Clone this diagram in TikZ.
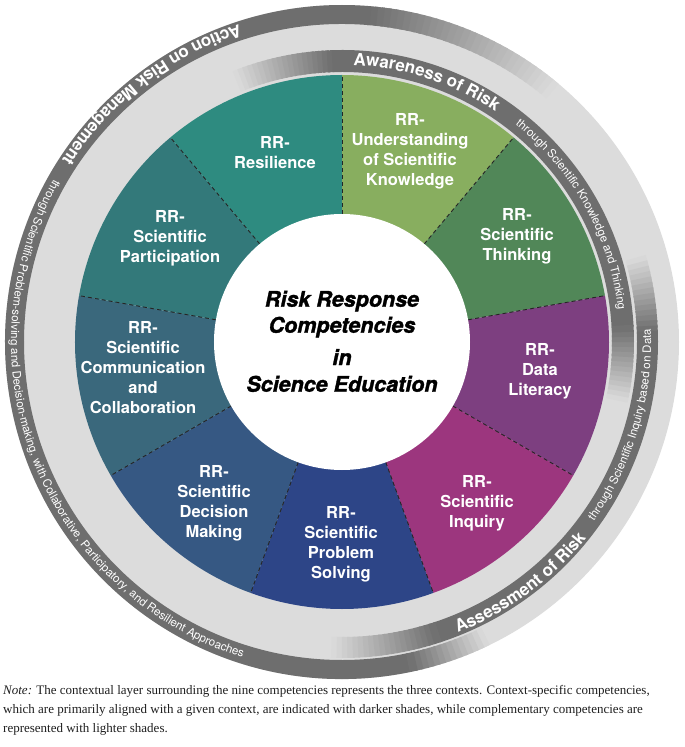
\documentclass[tikz,border=0pt]{standalone}
\usepackage{fontspec}
\setmainfont{TeX Gyre Heros}
\newfontfamily\notefont{Liberation Serif}
\newfontfamily\ctrfont[BoldItalicFeatures={FakeBold=1.5}]{TeX Gyre Heros}
\usetikzlibrary{decorations.text}

\definecolor{cRes}{HTML}{2E8B80}
\definecolor{cPar}{HTML}{33797A}
\definecolor{cCom}{HTML}{3A687C}
\definecolor{cDec}{HTML}{365883}
\definecolor{cPro}{HTML}{2D4587}
\definecolor{cInq}{HTML}{9C367E}
\definecolor{cDat}{HTML}{7D3F80}
\definecolor{cThi}{HTML}{518758}
\definecolor{cUnd}{HTML}{88AE5F}
\definecolor{ringlt}{HTML}{DCDCDC}
\definecolor{ringdk}{HTML}{6E6E6E}
\definecolor{notecol}{HTML}{1E1E1E}

\newcommand\arcbig{\color{white}\fontsize{17}{17}\selectfont\bfseries}
\newcommand\arcsmall{\color{white}\fontsize{11.5}{11.5}\selectfont}

% #1 r_in, #2 r_out, #3 light angle, #4 dark angle, #5 steps
\newcommand\bandfade[5]{%
  \foreach \k in {1,...,#5}{%
    \pgfmathsetmacro\fadeA{#3+(#4-#3)*(\k-1)/#5}%
    \pgfmathsetmacro\fadeB{#3+(#4-#3)*(\k+0.4)/#5}%
    \pgfmathsetmacro\fadeP{100*(\k-0.5)/#5}%
    \fill[ringdk!\fadeP!ringlt] (\fadeA:#1) arc[start angle=\fadeA, end angle=\fadeB, radius=#1]
      -- (\fadeB:#2) arc[start angle=\fadeB, end angle=\fadeA, radius=#2] -- cycle;
  }}
% #1 r_in, #2 r_out, #3 start angle, #4 end angle
\newcommand\bandsolid[4]{%
  \fill[ringdk] (#3:#1) arc[start angle=#3, end angle=#4, radius=#1]
    -- (#4:#2) arc[start angle=#4, end angle=#3, radius=#2] -- cycle;}

\begin{document}
\begin{tikzpicture}[x=1pt,y=1pt,
  seglabel/.style={align=center, text=white, inner sep=0pt,
    font=\fontsize{16.5}{20}\selectfont\bfseries},
  ctrline/.style={anchor=base, inner sep=0pt,
    font=\ctrfont\bfseries\itshape\fontsize{21.5}{24}\selectfont},
  notetext/.style={anchor=base west, inner sep=0pt, text=notecol,
    font=\notefont\fontsize{13}{16}\selectfont},
  segline/.style={black!85, line width=0.9pt, dash pattern=on 4pt off 3pt}]
\useasboundingbox (-342,-405) rectangle (343,342);

% outer ring background
\fill[ringlt] (0,0) circle[radius=337pt];

% band A : Awareness
\bandfade{270pt}{292pt}{112}{92}{20}
\bandsolid{270pt}{292pt}{92}{3}
\bandfade{270pt}{292pt}{-12}{3}{15}
% band B : Assessment
\bandfade{295pt}{316pt}{16}{2}{14}
\bandsolid{295pt}{316pt}{2}{-72}
\bandfade{295pt}{316pt}{-92}{-72}{20}
% band C : Action
\bandfade{318pt}{337pt}{50}{85}{30}
\bandsolid{318pt}{337pt}{85}{282}
\bandfade{318pt}{337pt}{296}{282}{14}

% segments
\foreach \s/\c in {90/cUnd, 50/cThi, 10/cDat, -30/cInq, -70/cPro, -110/cDec, -150/cCom, 170/cPar, 130/cRes}{
  \fill[\c] (0,0) -- (\s:267pt) arc[start angle=\s, end angle=\s-40, radius=267pt] -- cycle;
}
\foreach \a in {90,50,10,-30,-70,-110,-150,170,130}{
  \draw[segline] (\a:128pt) -- (\a:267pt);
}

% hub
\node[circle, fill=white, minimum size=256pt, inner sep=0pt] (hub) at (0,0) {};
\node[ctrline] (c1) at (0,35.3) {Risk Response};
\node[ctrline] (c2) at (0,9.3) {Competencies};
\node[ctrline] (c3) at (0,-23) {in};
\node[ctrline] (c4) at (0,-49.7) {Science Education};

% segment labels
\node[seglabel] (res) at (-67,189) {RR-\\Resilience};
\node[seglabel] (par) at (-172,104) {RR-\\Scientific\\Participation};
\node[seglabel] (com) at (-199,-26) {RR-\\Scientific\\Communication\\and\\Collaboration};
\node[seglabel] (dec) at (-128,-161) {RR-\\Scientific\\Decision\\Making};
\node[seglabel] (pro) at (-1,-202) {RR-\\Scientific\\Problem\\Solving};
\node[seglabel] (inq) at (135,-161) {RR-\\Scientific\\Inquiry};
\node[seglabel] (dat) at (198,-29) {RR-\\Data\\Literacy};
\node[seglabel] (thi) at (175,106) {RR-\\Scientific\\Thinking};
\node[seglabel] (und) at (68,191) {RR-\\Understanding\\of Scientific\\Knowledge};

% ring texts
\path[decorate, decoration={text along path, text align=center,
  text={|\arcbig|Awareness of Risk}}]
  (89:277pt) arc[start angle=89, end angle=55, radius=277pt];
\path[decorate, decoration={text along path, text align=center,
  text={|\arcsmall|through Scientific Knowledge and Thinking}}]
  (53:278pt) arc[start angle=53, end angle=5, radius=278pt];

\path[decorate, decoration={text along path, text align=center,
  text={|\arcbig|Assessment of Risk}}]
  (-70:313pt) arc[start angle=-70, end angle=-37, radius=313pt];
\path[decorate, decoration={text along path, text align=center,
  text={|\arcsmall|through Scientific Inquiry based on Data}}]
  (-36:309pt) arc[start angle=-36, end angle=3, radius=309pt];

\path[decorate, decoration={text along path, text align=center,
  text={|\arcbig|Action on Risk Management}}]
  (107:334pt) arc[start angle=107, end angle=148, radius=334pt];
\path[decorate, decoration={text along path, text align=center,
  text={|\arcsmall|through Scientific Problem-solving and Decision-making, with Collaborative, Participatory, and Resilient Approaches}}]
  (149:331pt) arc[start angle=149, end angle=254, radius=331pt];

% note
\node[notetext] (note1) at (-339,-352) {\textit{Note:} The contextual layer surrounding the nine competencies represents the three contexts. Context-specific competencies,};
\node[notetext] (note2) at (-339,-371) {which are primarily aligned with a given context, are indicated with darker shades, while complementary competencies are};
\node[notetext] (note3) at (-339,-390) {represented with lighter shades.};
\end{tikzpicture}
\end{document}
